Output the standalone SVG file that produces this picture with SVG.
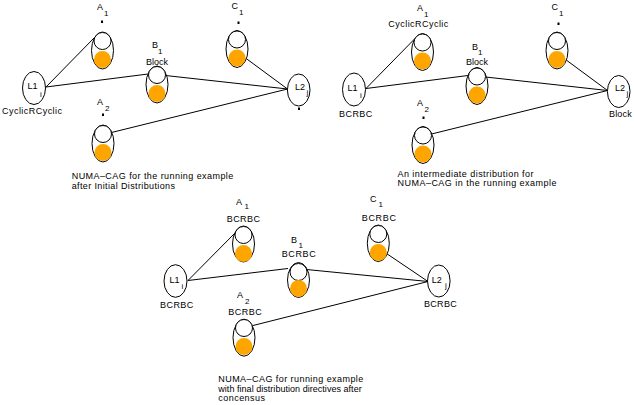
<svg xmlns="http://www.w3.org/2000/svg" width="634" height="405" viewBox="0 0 634 405">
<defs>
<style>
text{font-family:"Liberation Sans",Arial,sans-serif;font-size:9px;fill:#000}
.sub{font-size:8px}
.shell{fill:#fff;stroke:#000;stroke-width:1}
.top{fill:#fff;stroke:#000;stroke-width:1}
.bot{fill:#FFA500;stroke:none}
.conn line{stroke:#000;stroke-width:1}
.dot{fill:#000}
</style>
</defs>
<rect width="634" height="405" fill="#fff"/>

<!-- Panel 1 -->
<g id="panel1">
  <g class="conn" id="p1-connectors">
    <line x1="46" y1="87" x2="94.5" y2="37.5"/>
    <line x1="46" y1="87" x2="148" y2="74"/>
    <line x1="165.5" y1="75.5" x2="287.5" y2="89"/>
    <line x1="245.5" y1="58" x2="287.5" y2="89"/>
    <line x1="111.5" y1="132.5" x2="287.5" y2="89"/>
  </g>
  <g id="p1-L1">
    <ellipse class="shell" cx="34" cy="88" rx="11.5" ry="16.5"/>
    <text x="27.5" y="89">L1</text><text class="sub" x="40" y="96.5">i</text>
    <text x="2" y="114" textLength="60">CyclicRCyclic</text>
  </g>
  <g id="p1-A1">
    <ellipse class="shell" cx="102.5" cy="50.5" rx="11" ry="18.5"/>
    <circle class="top" cx="102.5" cy="41" r="8.5"/>
    <circle class="bot" cx="102.5" cy="59.5" r="8.5"/>
    <text x="97" y="10">A</text><text class="sub" x="104" y="15.5">1</text>
    <rect class="dot" x="101" y="20.5" width="2" height="2.5"/>
  </g>
  <g id="p1-B1">
    <ellipse class="shell" cx="157" cy="84.5" rx="11" ry="18.5"/>
    <circle class="top" cx="157" cy="75" r="8.5"/>
    <circle class="bot" cx="157" cy="93.5" r="8.5"/>
    <text x="152" y="48">B</text><text class="sub" x="158" y="53.5">1</text>
    <text x="146" y="65" textLength="22">Block</text>
  </g>
  <g id="p1-C1">
    <ellipse class="shell" cx="237" cy="49" rx="11" ry="18.5"/>
    <circle class="top" cx="237" cy="39.5" r="8.5"/>
    <circle class="bot" cx="237" cy="58" r="8.5"/>
    <text x="231.5" y="8.5">C</text><text class="sub" x="239" y="15">1</text>
    <rect class="dot" x="237.5" y="21.5" width="2" height="2.5"/>
  </g>
  <g id="p1-A2">
    <ellipse class="shell" cx="103" cy="143.5" rx="11" ry="18.5"/>
    <circle class="top" cx="103" cy="134" r="8.5"/>
    <circle class="bot" cx="103" cy="152.5" r="8.5"/>
    <text x="97" y="105">A</text><text class="sub" x="105" y="110.5">2</text>
    <rect class="dot" x="102" y="113.5" width="2" height="2.5"/>
  </g>
  <g id="p1-L2">
    <ellipse class="shell" cx="298.7" cy="90" rx="11.3" ry="16"/>
    <text x="295" y="89.5">L2</text><text class="sub" x="306.5" y="94.5">j</text>
    <rect class="dot" x="298" y="107.5" width="2" height="2.5"/>
  </g>
  <g id="p1-caption">
    <text x="71.7" y="178.5" textLength="161.6">NUMA–CAG for the running example</text>
    <text x="71.7" y="188.5" textLength="103.3">after Initial Distributions</text>
  </g>
</g>

<!-- Panel 2 -->
<g id="panel2" transform="translate(320,1.5)">
  <g class="conn" id="p2-connectors">
    <line x1="46" y1="87" x2="94.5" y2="37.5"/>
    <line x1="46" y1="87" x2="148" y2="74"/>
    <line x1="165.5" y1="75.5" x2="287.5" y2="89"/>
    <line x1="245.5" y1="58" x2="287.5" y2="89"/>
    <line x1="111.5" y1="132.5" x2="287.5" y2="89"/>
  </g>
  <g id="p2-L1">
    <ellipse class="shell" cx="34" cy="88" rx="11.5" ry="16.5"/>
    <text x="27.5" y="89">L1</text><text class="sub" x="40" y="96.5">i</text>
    <text x="19" y="115.2" textLength="33.3">BCRBC</text>
  </g>
  <g id="p2-A1">
    <ellipse class="shell" cx="102.5" cy="50.5" rx="11" ry="18.5"/>
    <circle class="top" cx="102.5" cy="41" r="8.5"/>
    <circle class="bot" cx="102.5" cy="59.5" r="8.5"/>
    <text x="97" y="9.5">A</text><text class="sub" x="104" y="15">1</text>
    <text x="68.3" y="25.5" textLength="60">CyclicRCyclic</text>
  </g>
  <g id="p2-B1">
    <ellipse class="shell" cx="157" cy="84.5" rx="11" ry="18.5"/>
    <circle class="top" cx="157" cy="75" r="8.5"/>
    <circle class="bot" cx="157" cy="93.5" r="8.5"/>
    <text x="152" y="48">B</text><text class="sub" x="158" y="53.5">1</text>
    <text x="146" y="63.5" textLength="22">Block</text>
  </g>
  <g id="p2-C1">
    <ellipse class="shell" cx="237" cy="49" rx="11" ry="18.5"/>
    <circle class="top" cx="237" cy="39.5" r="8.5"/>
    <circle class="bot" cx="237" cy="58" r="8.5"/>
    <text x="231.5" y="8">C</text><text class="sub" x="239" y="14.5">1</text>
    <rect class="dot" x="237.5" y="21" width="2" height="2.5"/>
  </g>
  <g id="p2-A2">
    <ellipse class="shell" cx="103" cy="143.5" rx="11" ry="18.5"/>
    <circle class="top" cx="103" cy="134" r="8.5"/>
    <circle class="bot" cx="103" cy="152.5" r="8.5"/>
    <text x="97" y="104.5">A</text><text class="sub" x="104.5" y="110.5">2</text>
    <rect class="dot" x="102.5" y="115" width="2" height="2.5"/>
  </g>
  <g id="p2-L2">
    <ellipse class="shell" cx="298.7" cy="90" rx="11.3" ry="16"/>
    <text x="295" y="89">L2</text><text class="sub" x="306.5" y="94">j</text>
    <text x="289" y="115.2" textLength="22.7">Block</text>
  </g>
  <g id="p2-caption">
    <text x="77.5" y="175" textLength="136">An intermediate distribution for</text>
    <text x="77.5" y="184.5" textLength="159">NUMA–CAG in the running example</text>
  </g>
</g>

<!-- Panel 3 -->
<g id="panel3" transform="translate(141,194)">
  <g class="conn" id="p3-connectors">
    <line x1="47" y1="86.5" x2="94.5" y2="38.5"/>
    <line x1="47" y1="86.5" x2="147" y2="74.5"/>
    <line x1="165.5" y1="75.5" x2="287" y2="87.5"/>
    <line x1="245.5" y1="59.5" x2="287" y2="87.5"/>
    <line x1="112" y1="131.5" x2="287" y2="87.5"/>
  </g>
  <g id="p3-L1">
    <ellipse class="shell" cx="34.5" cy="87" rx="11.5" ry="16.3"/>
    <text x="28.5" y="88.7">L1</text><text class="sub" x="40.5" y="95.3">i</text>
    <text x="19" y="114" textLength="33.3">BCRBC</text>
  </g>
  <g id="p3-A1">
    <ellipse class="shell" cx="102.5" cy="50" rx="11" ry="18"/>
    <circle class="top" cx="102.5" cy="41" r="8.5"/>
    <circle class="bot" cx="102.5" cy="59.5" r="8.5"/>
    <text x="95" y="10.5">A</text><text class="sub" x="103.5" y="15.3">1</text>
    <text x="85.7" y="27.7" textLength="33.3">BCRBC</text>
  </g>
  <g id="p3-B1">
    <ellipse class="shell" cx="157.5" cy="86" rx="11" ry="17.5"/>
    <circle class="top" cx="157.5" cy="78" r="8.5"/>
    <circle class="bot" cx="157.5" cy="94.5" r="8.5"/>
    <text x="150" y="49.3">B</text><text class="sub" x="157.5" y="54.3">1</text>
    <text x="140.7" y="63.3" textLength="34">BCRBC</text>
  </g>
  <g id="p3-C1">
    <ellipse class="shell" cx="237.3" cy="49.3" rx="11" ry="18.3"/>
    <circle class="top" cx="237.3" cy="40" r="8.5"/>
    <circle class="bot" cx="237.3" cy="58.5" r="8.5"/>
    <text x="229" y="7.7">C</text><text class="sub" x="237.5" y="13.3">1</text>
    <text x="220.7" y="26.7" textLength="34.3">BCRBC</text>
  </g>
  <g id="p3-A2">
    <ellipse class="shell" cx="103" cy="143.7" rx="11" ry="18.5"/>
    <circle class="top" cx="103" cy="134" r="8.5"/>
    <circle class="bot" cx="103" cy="152.5" r="8.5"/>
    <text x="96" y="104.3">A</text><text class="sub" x="104" y="110">2</text>
    <text x="87.3" y="121" textLength="33.4">BCRBC</text>
  </g>
  <g id="p3-L2">
    <ellipse class="shell" cx="297.8" cy="87" rx="11.3" ry="16"/>
    <text x="290.7" y="89.3">L2</text><text class="sub" x="304" y="94">j</text>
    <text x="283" y="113" textLength="32.7">BCRBC</text>
  </g>
  <g id="p3-caption">
    <text x="77.3" y="187.7" textLength="145">NUMA–CAG for running example</text>
    <text x="77.3" y="197.7" textLength="143.4">with final distribution directives after</text>
    <text x="77.3" y="206.7" textLength="46.7">concensus</text>
  </g>
</g>
</svg>
